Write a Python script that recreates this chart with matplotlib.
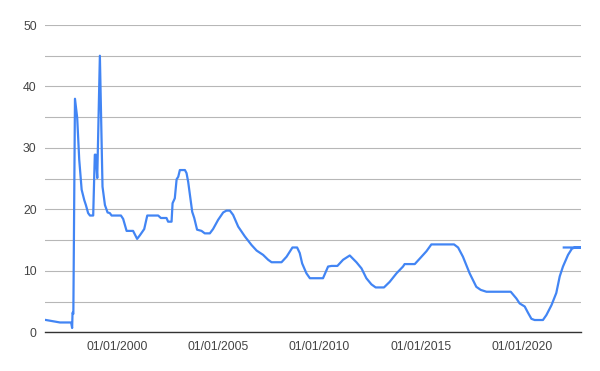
import numpy as np
import matplotlib
matplotlib.use("Agg")
import matplotlib.pyplot as plt

plt.rcParams['font.family'] = ['Liberation Sans', 'DejaVu Sans']

# -----------------------------
# Data (decimal years)
# -----------------------------
years = [1996.50, 1997.19, 1997.74, 1997.79, 1997.81, 1997.85, 1997.93,
         1998.04, 1998.14, 1998.26, 1998.39, 1998.47, 1998.58, 1998.67,
         1998.83, 1998.91, 1998.96, 1999.03, 1999.16, 1999.29, 1999.41,
         1999.54, 1999.65, 1999.74, 2000.20, 2000.31, 2000.48, 2000.80,
         2001.00, 2001.14, 2001.35, 2001.50, 2002.04, 2002.17, 2002.45,
         2002.53, 2002.70, 2002.75, 2002.86, 2002.95, 2003.03, 2003.11,
         2003.36, 2003.44, 2003.52, 2003.72, 2003.82, 2003.96, 2004.18,
         2004.34, 2004.59, 2004.75, 2005.00, 2005.25, 2005.41, 2005.58,
         2005.74, 2005.99, 2006.32, 2006.65, 2006.90, 2007.22, 2007.47,
         2007.64, 2008.13, 2008.38, 2008.67, 2008.90, 2009.03, 2009.15,
         2009.36, 2009.53, 2010.18, 2010.43, 2010.60, 2010.89, 2011.17,
         2011.50, 2011.83, 2012.08, 2012.32, 2012.57, 2012.78, 2013.19,
         2013.47, 2013.81, 2014.13, 2014.21, 2014.71, 2014.96, 2015.29,
         2015.53, 2016.65, 2016.85, 2017.09, 2017.42, 2017.75, 2017.97,
         2018.25, 2019.45, 2019.73, 2019.89, 2020.14, 2020.30, 2020.47,
         2020.63, 2021.04, 2021.21, 2021.46, 2021.70, 2021.87, 2022.03,
         2022.28, 2022.47, 2022.61, 2022.94, 2022.07]
values = [2.0, 1.6, 1.6, 0.7, 3.2, 3.0, 38.0,
          34.9, 28.1, 23.2, 21.5, 20.7, 19.4, 19.0,
          19.0, 28.9, 28.9, 25.1, 45.0, 23.7, 20.7,
          19.5, 19.4, 19.0, 19.0, 18.45, 16.5, 16.5,
          15.2, 15.8, 16.8, 19.0, 19.0, 18.6, 18.6,
          18.0, 18.0, 21.0, 21.8, 24.9, 25.3, 26.4,
          26.4, 25.9, 24.5, 19.6, 18.6, 16.7, 16.5,
          16.1, 16.1, 16.8, 18.3, 19.5, 19.8, 19.8,
          19.1, 17.2, 15.6, 14.2, 13.3, 12.6, 11.8,
          11.4, 11.4, 12.3, 13.8, 13.8, 12.9, 11.2,
          9.6, 8.8, 8.8, 10.7, 10.8, 10.8, 11.8,
          12.5, 11.4, 10.4, 8.8, 7.8, 7.3, 7.3,
          8.2, 9.6, 10.7, 11.1, 11.1, 12.0, 13.2,
          14.3, 14.3, 13.8, 12.3, 9.6, 7.4, 6.9,
          6.6, 6.6, 5.5, 4.7, 4.2, 3.2, 2.2,
          2.0, 2.0, 2.8, 4.4, 6.4, 9.1, 10.7,
          12.6, 13.6, 13.8, 13.8, 13.8]

x_ticks = [2000, 2005, 2010, 2015, 2020]
x_tick_labels = ["01/01/2000", "01/01/2005", "01/01/2010", "01/01/2015", "01/01/2020"]
y_ticks = [0, 10, 20, 30, 40, 50]

# -----------------------------
# Plot
# -----------------------------
fig = plt.figure(figsize=(6, 3.71), dpi=100)
ax = fig.add_axes([0.075, 0.1043, 0.894, 0.8283])

ax.plot(years, values, color="#4285F4", linewidth=1.6, solid_joinstyle="round")

ax.set_xlim(1996.45, 2022.94)
ax.set_ylim(0, 50)
ax.set_xticks(x_ticks)
ax.set_xticklabels(x_tick_labels)
ax.set_yticks(y_ticks)
ax.set_yticks(np.arange(5, 50, 10), minor=True)

ax.grid(True, axis="y", which="both", color="#b7b7b7", linewidth=0.8)
ax.set_axisbelow(True)
for side in ["top", "right", "left"]:
    ax.spines[side].set_visible(False)
ax.spines["bottom"].set_color("#333333")
ax.spines["bottom"].set_linewidth(1.0)
ax.spines["bottom"].set_zorder(3)

ax.tick_params(axis="both", which="both", length=0, labelsize=8.8, labelcolor="#444444")
ax.tick_params(axis="y", pad=6)
ax.tick_params(axis="x", pad=6)

plt.savefig("out.png", dpi=100)
